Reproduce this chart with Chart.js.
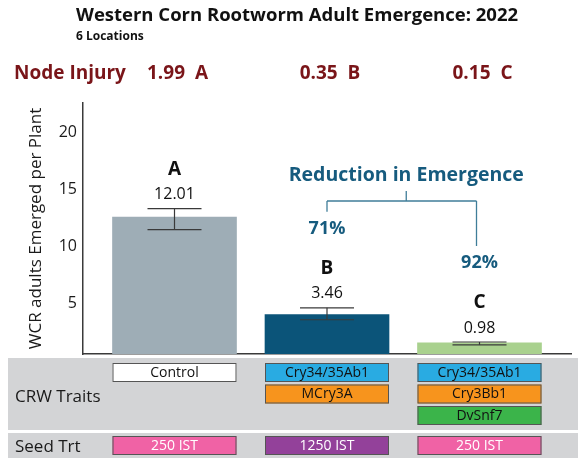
<!DOCTYPE html>
<html><head><meta charset="utf-8">
<script src="https://cdn.jsdelivr.net/npm/chart.js@4.4.1/dist/chart.umd.min.js"></script>
<style>html,body{margin:0;padding:0;background:#fff}#wrap{width:578px;height:465px;position:relative}</style>
</head><body><div id="wrap"><canvas id="c"></canvas></div>
<script>
// ---- data ----
const categories = ['Control', 'Cry34/35Ab1 + MCry3A', 'Cry34/35Ab1 + Cry3Bb1 + DvSnf7'];
const emergence = [12.01, 3.46, 0.98];
const errLow = [10.9, 3.0, 0.8];
const errHigh = [12.75, 4.05, 1.05];
const groupLetters = ['A', 'B', 'C'];
const nodeInjury = ['1.99', '0.35', '0.15'];
const nodeLetters = ['A', 'B', 'C'];
const reductionLabels = [null, '71%', '92%'];
const crwTraits = [['Control'], ['Cry34/35Ab1', 'MCry3A'], ['Cry34/35Ab1', 'Cry3Bb1', 'DvSnf7']];
const seedTrt = ['250 IST', '1250 IST', '250 IST'];
const yTickLabels = [5, 10, 15, 20];

// ---- styles ----
const FONT = "'Open Sans', 'DejaVu Sans', sans-serif";
const barColors = ['#9eadb6', '#0b5479', '#a9d18e'];
const boxColors = {'Control': '#ffffff', 'Cry34/35Ab1': '#29abe2', 'MCry3A': '#f7941d', 'Cry3Bb1': '#f7941d', 'DvSnf7': '#3bb44a', '250 IST': '#f062a5', '1250 IST': '#93419a'};
const boxText = {'250 IST': '#ffffff', '1250 IST': '#ffffff'};
const RED = '#7a1519';
const BLUE = '#165b7e';

function txt(ctx, s, x, y, font, color, align) {
  ctx.font = font; ctx.fillStyle = color; ctx.textAlign = align || 'center'; ctx.textBaseline = 'middle';
  ctx.fillText(s, x, y);
}
function seg(ctx, x1, y1, x2, y2) { ctx.beginPath(); ctx.moveTo(x1, y1); ctx.lineTo(x2, y2); ctx.stroke(); }

const overlay = {
  id: 'overlay',
  beforeDraw(chart) {
    const ctx = chart.ctx;
    ctx.save();
    ctx.fillStyle = '#fff'; ctx.fillRect(0, 0, chart.width, chart.height);
    ctx.restore();
  },
  afterDatasetsDraw(chart) {
    const {ctx, scales: {x, y}, chartArea} = chart;
    ctx.save();
    // titles
    txt(ctx, 'Western Corn Rootworm Adult Emergence: 2022', 76, 16, `bold 18.5px ${FONT}`, '#111', 'left');
    txt(ctx, '6 Locations', 76, 37, `bold 12px ${FONT}`, '#111', 'left');
    txt(ctx, 'Node Injury', 14, 74, `bold 19px ${FONT}`, RED, 'left');
    // error bars & labels
    ctx.strokeStyle = '#3a3a3a'; ctx.lineWidth = 1.2;
    const letterYs = [];
    emergence.forEach((v, i) => {
      const cx = x.getPixelForValue(i);
      const yt = y.getPixelForValue(errHigh[i]);
      const yb = y.getPixelForValue(errLow[i]);
      seg(ctx, cx, yt, cx, yb);
      seg(ctx, cx - 27, yt, cx + 27, yt);
      seg(ctx, cx - 27, yb, cx + 27, yb);
      const vy = yt - 14;
      const ly = vy - 25;
      letterYs.push(ly);
      txt(ctx, v.toFixed(2), cx, vy, `16px ${FONT}`, '#111');
      txt(ctx, groupLetters[i], cx, ly, `bold 19px ${FONT}`, '#111');
      txt(ctx, nodeInjury[i] + '  ' + nodeLetters[i], cx + 3, 74, `bold 19px ${FONT}`, RED);
    });
    // reduction annotation
    const bx1 = x.getPixelForValue(1), bx2 = x.getPixelForValue(2);
    const hy = chartArea.top + 98;
    const mid = (bx1 + bx2) / 2 + 3;
    txt(ctx, 'Reduction in Emergence', mid, 175, `bold 19.5px ${FONT}`, BLUE);
    ctx.strokeStyle = '#3f7d99'; ctx.lineWidth = 1.3;
    seg(ctx, mid, hy - 10, mid, hy);
    seg(ctx, bx1, hy, bx2 - 3, hy);
    reductionLabels.forEach((lab, i) => {
      if (!lab) return;
      const cx = x.getPixelForValue(i);
      const py = letterYs[i] - 40;
      seg(ctx, i === 2 ? cx - 3 : cx, hy, i === 2 ? cx - 3 : cx, py - 17);
      txt(ctx, lab, cx, py, `bold 18px ${FONT}`, BLUE);
    });
    // bottom panel
    ctx.fillStyle = '#d3d4d6';
    ctx.fillRect(8, 358, 570, 72);
    ctx.fillRect(8, 433, 570, 25);
    txt(ctx, 'CRW Traits', 15, 397, `17px ${FONT}`, '#1a1a1a', 'left');
    txt(ctx, 'Seed Trt', 15, 447, `17px ${FONT}`, '#1a1a1a', 'left');
    const box = (label, cx, top) => {
      ctx.fillStyle = boxColors[label] || '#fff';
      ctx.fillRect(cx - 62, top, 124, 19);
      ctx.strokeStyle = '#555'; ctx.lineWidth = 1;
      ctx.strokeRect(cx - 62 + 0.5, top + 0.5, 123, 18);
      txt(ctx, label, cx, top + 10, `14px ${FONT}`, boxText[label] || '#111');
    };
    crwTraits.forEach((list, i) => {
      const cx = x.getPixelForValue(i);
      list.forEach((t, r) => box(t, cx, 363 + r * 21.5));
      box(seedTrt[i], cx, 436);
    });
    ctx.restore();
  }
};

new Chart(document.getElementById('c'), {
  type: 'bar',
  data: {
    datasets: [{
      label: 'WCR adults emerged per plant',
      data: emergence.map((v, i) => ({x: i, y: v})),
      backgroundColor: barColors,
      barThickness: 124,
      yAxisID: 'y'
    }]
  },
  options: {
    responsive: true,
    maintainAspectRatio: false,
    animation: false,
    layout: {padding: {left: 10, top: 103, right: 7, bottom: 111}},
    plugins: {legend: {display: false}, tooltip: {enabled: false}, title: {display: false}},
    scales: {
      x: {
        type: 'linear', min: -0.6, max: 2.6, offset: false,
        grid: {display: false, drawTicks: false},
        ticks: {display: false},
        border: {display: true, color: '#3a3a3a', width: 1.5},
        afterFit: s => { s.height = 0; }
      },
      y: {min: 0, max: 22, display: false},
      yLabels: {
        position: 'left', min: 0.6, max: 22.6,
        grid: {display: false, drawTicks: false},
        border: {display: true, color: '#3a3a3a', width: 1.5},
        ticks: {
          stepSize: 5, padding: 6, color: '#1a1a1a', font: {family: FONT, size: 16},
          callback: v => yTickLabels.includes(v) ? String(v) : null
        },
        title: {display: true, text: 'WCR adults Emerged per Plant', color: '#1a1a1a',
          font: {family: FONT, size: 17}, padding: {top: 16, bottom: 0}},
        afterFit: s => { s.width = 73; }
      }
    }
  },
  plugins: [overlay]
});
</script>
</body></html>
